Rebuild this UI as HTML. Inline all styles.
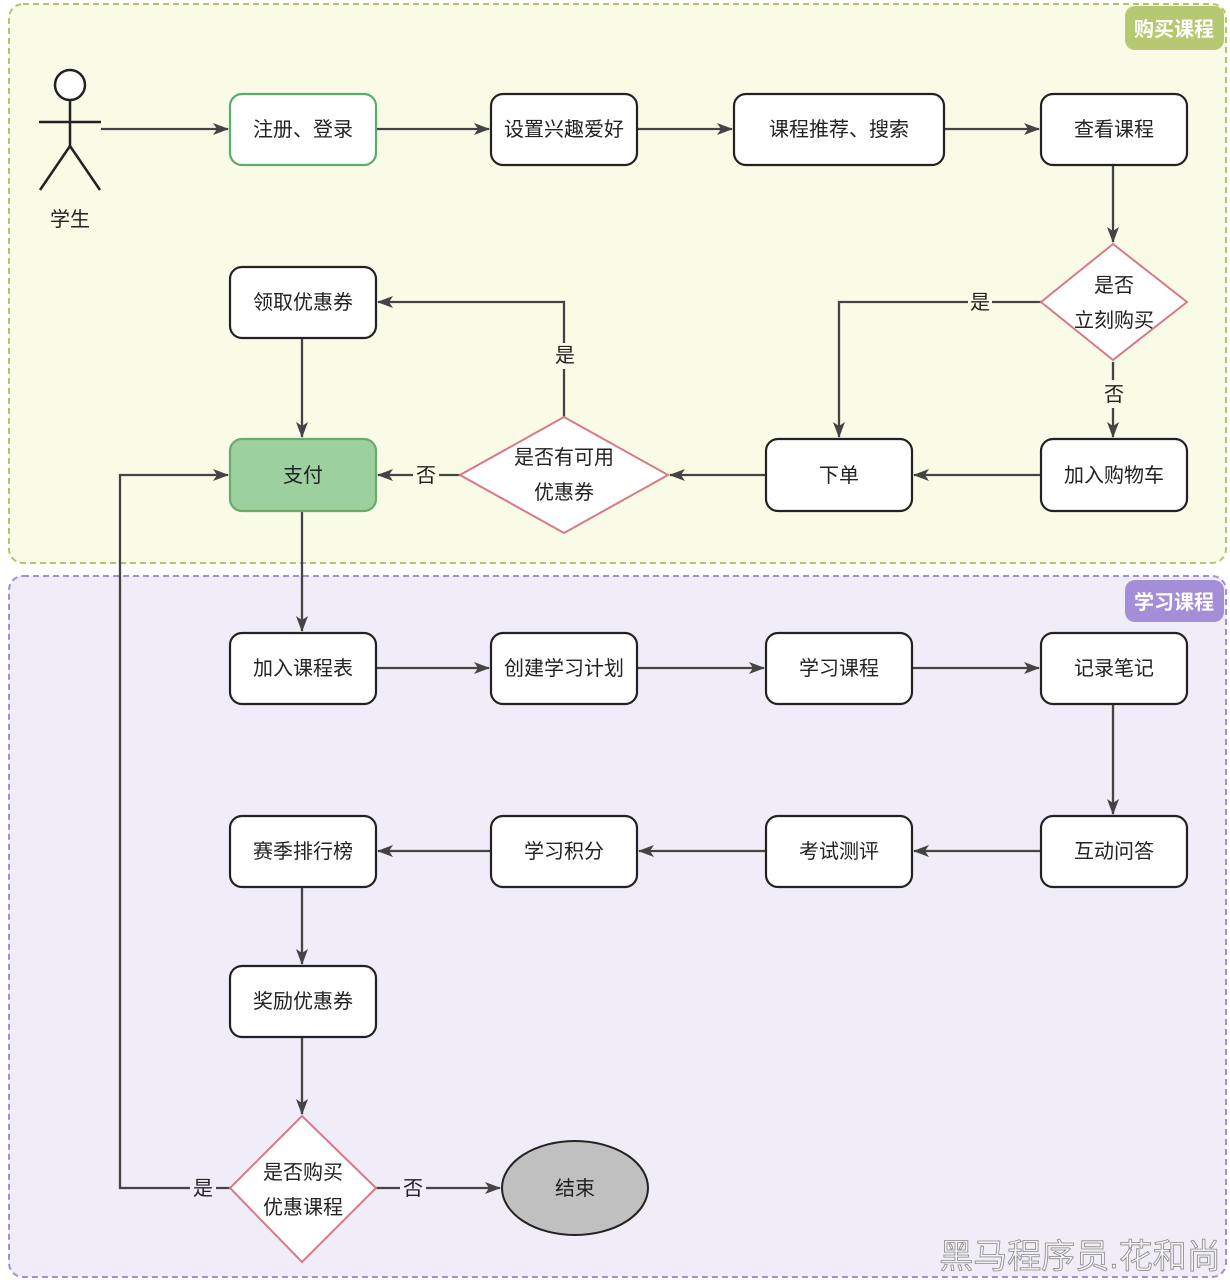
<!DOCTYPE html>
<html><head><meta charset="utf-8"><style>
html,body{margin:0;padding:0;background:#fff;}
svg{display:block;}
text{font-family:"Liberation Sans","Noto Sans CJK SC",sans-serif;font-size:20px;fill:#222;}
</style></head><body>
<svg width="1230" height="1280" viewBox="0 0 1230 1280" xmlns="http://www.w3.org/2000/svg">
<defs>
<marker id="a" markerWidth="16" markerHeight="12" refX="15" refY="6" orient="auto" markerUnits="userSpaceOnUse">
<path d="M0,0 L16,6 L0,12 L4,6 Z" fill="#444"/></marker>
</defs>
<rect x="9" y="4" width="1217" height="559" rx="14" fill="#fafbe6" stroke="#b3c46a" stroke-width="2" stroke-dasharray="6,4"/>
<rect x="9" y="576" width="1217" height="701" rx="14" fill="#f0ecf8" stroke="#a48ed8" stroke-width="2" stroke-dasharray="6,4"/>
<rect x="1125" y="6" width="99" height="44" rx="10" fill="#b7c872"/>
<text x="1174" y="36" text-anchor="middle" style="fill:#fff;font-weight:bold;font-size:20px">购买课程</text>
<rect x="1125" y="580" width="99" height="42" rx="10" fill="#a48ed8"/>
<text x="1174" y="609" text-anchor="middle" style="fill:#fff;font-weight:bold;font-size:20px">学习课程</text>

<g stroke="#222" stroke-width="2.5" fill="none">
<circle cx="70" cy="85" r="15" fill="#fff"/>
<line x1="70" y1="100" x2="70" y2="146"/>
<line x1="39" y1="122" x2="101" y2="122"/>
<line x1="70" y1="146" x2="40" y2="190"/>
<line x1="70" y1="146" x2="100" y2="190"/>
</g>
<text x="70" y="226" text-anchor="middle">学生</text>

<g stroke="#444" stroke-width="2.3" fill="none" marker-end="url(#a)">
<line x1="101" y1="129" x2="228" y2="129"/>
<line x1="376" y1="129" x2="489" y2="129"/>
<line x1="637" y1="129" x2="732" y2="129"/>
<line x1="944" y1="129" x2="1039" y2="129"/>
<line x1="1113" y1="165" x2="1113" y2="242"/>
<polyline points="1041,302 839,302 839,437"/>
<polyline points="1113,362 1113,437"/>
<line x1="1041" y1="475" x2="914" y2="475"/>
<line x1="766" y1="475" x2="670" y2="475"/>
<polyline points="564,417 564,302 378,302"/>
<line x1="460" y1="475" x2="378" y2="475"/>
<line x1="302" y1="338" x2="302" y2="437"/>
<line x1="302" y1="511" x2="302" y2="631"/>
<line x1="376" y1="668" x2="489" y2="668"/>
<line x1="637" y1="668" x2="764" y2="668"/>
<line x1="912" y1="668" x2="1039" y2="668"/>
<line x1="1113" y1="704" x2="1113" y2="814"/>
<line x1="1041" y1="851" x2="914" y2="851"/>
<line x1="766" y1="851" x2="639" y2="851"/>
<line x1="491" y1="851" x2="378" y2="851"/>
<line x1="302" y1="887" x2="302" y2="964"/>
<line x1="302" y1="1037" x2="302" y2="1114"/>
<line x1="376" y1="1188" x2="500" y2="1188"/>
<polyline points="230,1188 120,1188 120,475 228,475"/>
</g>
<g>
<rect x="968" y="290" width="24" height="24" fill="#fafbe6"/><text x="980" y="309" text-anchor="middle">是</text>
<rect x="1102" y="380" width="24" height="28" fill="#fafbe6"/><text x="1114" y="401" text-anchor="middle">否</text>
<rect x="553" y="343" width="24" height="26" fill="#fafbe6"/><text x="565" y="362" text-anchor="middle">是</text>
<rect x="413" y="463" width="26" height="24" fill="#fafbe6"/><text x="426" y="482" text-anchor="middle">否</text>
<rect x="190" y="1176" width="26" height="24" fill="#f0ecf8"/><text x="203" y="1195" text-anchor="middle">是</text>
<rect x="400" y="1176" width="26" height="24" fill="#f0ecf8"/><text x="413" y="1195" text-anchor="middle">否</text>
</g>

<g stroke="#222" stroke-width="2.2" fill="#fff">
<rect x="230" y="94" width="146" height="71" rx="12" stroke="#5aaa72"/>
<rect x="491" y="94" width="146" height="71" rx="12"/>
<rect x="734" y="94" width="210" height="71" rx="12"/>
<rect x="1041" y="94" width="146" height="71" rx="12"/>
<rect x="230" y="267" width="146" height="71" rx="12"/>
<rect x="230" y="439" width="146" height="72" rx="12" fill="#9dd09f" stroke="#6aaa6c"/>
<rect x="766" y="439" width="146" height="72" rx="12"/>
<rect x="1041" y="439" width="146" height="72" rx="12"/>
<rect x="230" y="633" width="146" height="71" rx="12"/>
<rect x="491" y="633" width="146" height="71" rx="12"/>
<rect x="766" y="633" width="146" height="71" rx="12"/>
<rect x="1041" y="633" width="146" height="71" rx="12"/>
<rect x="230" y="816" width="146" height="71" rx="12"/>
<rect x="491" y="816" width="146" height="71" rx="12"/>
<rect x="766" y="816" width="146" height="71" rx="12"/>
<rect x="1041" y="816" width="146" height="71" rx="12"/>
<rect x="230" y="966" width="146" height="71" rx="12"/>
</g>
<g stroke="#d87a86" stroke-width="2" fill="#fff">
<polygon points="1113,244 1187,302 1113,360 1041,302"/>
<polygon points="564,417 668,475 564,533 460,475"/>
<polygon points="302,1116 376,1188 302,1262 230,1188"/>
</g>
<ellipse cx="575" cy="1188" rx="73" ry="47" fill="#c0c0c0" stroke="#222" stroke-width="2"/>

<g text-anchor="middle">
<text x="303" y="136">注册、登录</text>
<text x="564" y="136">设置兴趣爱好</text>
<text x="839" y="136">课程推荐、搜索</text>
<text x="1114" y="136">查看课程</text>
<text x="1114" y="292">是否</text>
<text x="1114" y="327">立刻购买</text>
<text x="303" y="309">领取优惠券</text>
<text x="303" y="482">支付</text>
<text x="564" y="464">是否有可用</text>
<text x="564" y="499">优惠券</text>
<text x="839" y="482">下单</text>
<text x="1114" y="482">加入购物车</text>
<text x="303" y="675">加入课程表</text>
<text x="564" y="675">创建学习计划</text>
<text x="839" y="675">学习课程</text>
<text x="1114" y="675">记录笔记</text>
<text x="303" y="858">赛季排行榜</text>
<text x="564" y="858">学习积分</text>
<text x="839" y="858">考试测评</text>
<text x="1114" y="858">互动问答</text>
<text x="303" y="1008">奖励优惠券</text>
<text x="303" y="1179">是否购买</text>
<text x="303" y="1214">优惠课程</text>
<text x="575" y="1195">结束</text>
</g>
<text x="1080" y="1268" text-anchor="middle" style="font-size:34px;fill:#f4f4f4;stroke:#888;stroke-width:0.8">黑马程序员.花和尚</text>
</svg>
</body></html>
